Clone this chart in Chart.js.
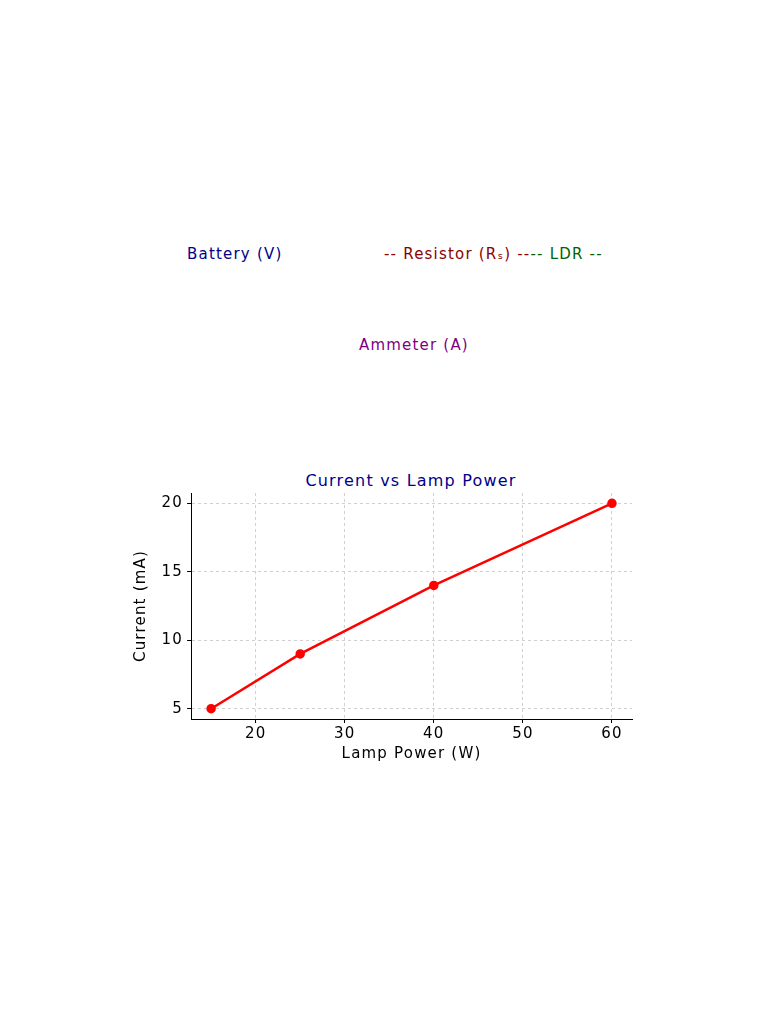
<!DOCTYPE html>
<html><head><script src="https://cdn.jsdelivr.net/npm/chart.js@4"></script>
<style>
body{margin:0;width:768px;height:1024px;background:#fff;position:relative;font-family:"DejaVu Sans",sans-serif;}
.t{position:absolute;font-size:15px;white-space:pre;letter-spacing:1.2px;}
#wrap{position:absolute;left:124px;top:472px;width:526px;height:291px;}
</style></head><body>
<div class="t" style="left:187px;top:245px;color:#00008b">Battery (V)</div>
<div class="t" style="left:384px;top:245px;color:#8b0000">-- Resistor (Rₛ) --<span style="color:#006400">-- LDR --</span></div>
<div class="t" style="left:359px;top:336px;color:#800080">Ammeter (A)</div>
<div class="t" style="left:211px;width:400px;text-align:center;top:471px;font-size:16px;color:#00008b">Current vs Lamp Power</div>
<div id="wrap"><canvas id="c"></canvas></div>
<script>
const lampPower=[15,25,40,60];
const currentMA=[5,9,14,20];
const xTicks=[20,30,40,50,60];
const yTicks=[5,10,15,20];
const spacing={id:'sp',beforeDraw(c){c.ctx.letterSpacing='1.2px';}};
const f={family:'DejaVu Sans',size:15};
new Chart(document.getElementById('c'),{type:'scatter',plugins:[spacing],
data:{datasets:[{data:lampPower.map((x,i)=>({x,y:currentMA[i]})),showLine:true,borderColor:'#ff0000',backgroundColor:'#ff0000',borderWidth:2.5,pointRadius:3.5}]},
options:{responsive:true,maintainAspectRatio:false,animation:false,
layout:{padding:{right:18,left:8,top:21}},
plugins:{legend:{display:false},tooltip:{enabled:false},title:{display:false}},
scales:{
x:{min:12.75,max:62.25,afterBuildTicks:a=>{a.ticks=xTicks.map(v=>({value:v}))},
title:{display:true,text:'Lamp Power (W)',color:'#000',font:f,padding:0},
ticks:{color:'#000',font:f,maxRotation:0,padding:2},
grid:{color:'#d0d0d0',tickColor:'#000',tickLength:4},border:{color:'#000',dash:[3,3]}},
y:{min:4.25,max:20.75,afterBuildTicks:a=>{a.ticks=yTicks.map(v=>({value:v}))},
title:{display:true,text:'Current (mA)',color:'#000',font:f,padding:{top:0,bottom:10}},
ticks:{color:'#000',font:f,padding:4},
grid:{color:'#d0d0d0',tickColor:'#000',tickLength:4},border:{color:'#000',dash:[3,3]}}}}});
</script></body></html>
